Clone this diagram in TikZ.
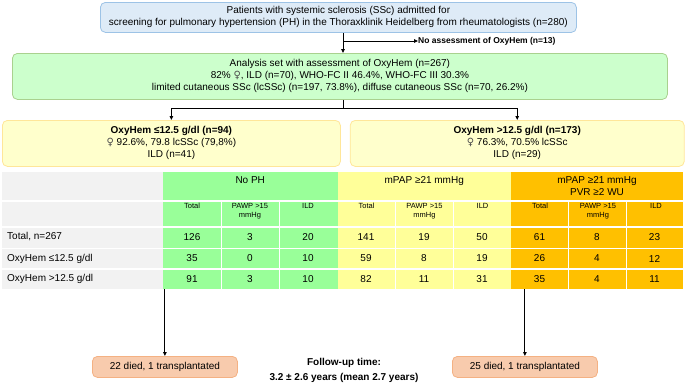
\documentclass[tikz,border=0pt]{standalone}
\usepackage{fontspec}
\setmainfont{Liberation Sans}
\newfontfamily\symfont{DejaVu Sans}
\usetikzlibrary{arrows.meta,positioning}
\definecolor{ink}{HTML}{000000}
\definecolor{skyfill}{HTML}{DEEBF7}
\definecolor{skyline}{HTML}{9DC3E6}
\definecolor{mintfill}{HTML}{CCFFCC}
\definecolor{mintline}{HTML}{A9D18E}
\definecolor{creamfill}{HTML}{FFFFCC}
\definecolor{creamline}{HTML}{FFE699}
\definecolor{nophfill}{HTML}{99FF99}
\definecolor{mpapfill}{HTML}{FFFF99}
\definecolor{pvrfill}{HTML}{FFC000}
\definecolor{labfill}{HTML}{F2F2F2}
\definecolor{peachfill}{HTML}{F8CBAD}
\definecolor{peachline}{HTML}{F4B183}
\newcommand{\fem}{{\symfont\color{black!70}♀}}
\tikzset{
  panel/.style={draw, rounded corners=5pt, line width=0.8pt, align=center, inner sep=0pt, anchor=north west},
  cell/.style={inner sep=0pt, outer sep=0pt, anchor=north west},
  flow/.style={-{Triangle[length=4pt,width=3.5pt]}, line width=0.9pt, color=ink},
  rule/.style={white, line width=1.5pt},
  num/.style={font=\fontsize{10}{12}\selectfont, inner sep=0pt},
  colhead/.style={font=\fontsize{10}{12.5}\selectfont, align=center, anchor=north, inner sep=0pt},
  subhead/.style={font=\fontsize{7.5}{9.5}\selectfont, align=center, anchor=north, inner sep=0pt},
}
\def\colx{{192,250,308,366,424,482,539.5,597,654.5}}

\begin{document}
\begin{tikzpicture}[x=1pt, y=-1pt, every node/.style={font=\fontsize{10}{12}\selectfont}]
  \useasboundingbox (0,0) rectangle (685,384);

  % flow boxes
  \node[panel, fill=skyfill, draw=skyline, minimum width=476pt, minimum height=30pt] (screen) at (100,2)
    {Patients with systemic sclerosis (SSc) admitted for\\screening for pulmonary hypertension (PH) in the Thoraxklinik Heidelberg from rheumatologists (n=280)};
  \node[panel, fill=mintfill, draw=mintline, minimum width=655pt, minimum height=46pt] (analysis) at (12,53)
    {Analysis set with assessment of OxyHem (n=267)\\82\% \fem, ILD (n=70), WHO-FC II 46.4\%, WHO-FC III 30.3\%\\limited cutaneous SSc (lcSSc) (n=197, 73.8\%), diffuse cutaneous SSc (n=70, 26.2\%)};
  \node[anchor=west, inner sep=0pt, font=\fontsize{8.5}{10}\selectfont\bfseries] (noassess) at (418,41) {No assessment of OxyHem (n=13)};
  \node[panel, fill=creamfill, draw=creamline, minimum width=338pt, minimum height=46pt] (lowhem) at (2,120)
    {\textbf{OxyHem ≤12.5 g/dl (n=94)}\\\fem{} 92.6\%, 79.8 lcSSc (79,8\%)\\ILD (n=41)};
  \node[panel, fill=creamfill, draw=creamline, minimum width=334pt, minimum height=46pt, right=9pt of lowhem] (highhem)
    {\textbf{OxyHem >12.5 g/dl (n=173)}\\\fem{} 76.3\%, 70.5\% lcSSc\\ILD (n=29)};

  \coordinate (split) at (343,41);
  \coordinate (fork) at (343,108);
  \draw[flow] (screen.south -| split) -- (analysis.north -| split);
  \draw[flow] (split) -- (noassess.west);
  \draw[line width=0.9pt] (analysis.south -| fork) -- (fork);
  \draw[flow] (fork) -| (lowhem.north);
  \draw[flow] (fork) -| (highhem.north);

  % table
  \node[cell, fill=labfill, minimum width=161pt, minimum height=117pt] (lab) at (2,172) {};
  \node[cell, fill=nophfill, minimum width=174.5pt, minimum height=117pt] (noph) at (163,172) {};
  \node[cell, fill=mpapfill, minimum width=173.5pt, minimum height=117pt] (mpap) at (337.5,172) {};
  \node[cell, fill=pvrfill, minimum width=172pt, minimum height=117pt] (pvr) at (511,172) {};
  \foreach \y in {201,227,248.5,269} \draw[rule] (2,\y) -- (683,\y);
  \foreach \x in {221,279,395,453,568,626} \draw[white, line width=1pt] (\x,201) -- (\x,289);

  \node[colhead] (nophhead) at ([yshift=-4pt]noph.north) {No PH};
  \node[colhead] (mpaphead) at ([yshift=-4pt]mpap.north) {mPAP ≥21 mmHg};
  \node[colhead] (pvrhead) at ([yshift=-4pt]pvr.north) {mPAP ≥21 mmHg\\PVR ≥2 WU};

  \foreach \xa [count=\s] in {163,337.5,511} {
    \node[subhead] (tot\s) at ({\xa+29},203) {Total};
    \node[subhead] (pawp\s) at ({\xa+87},203) {PAWP >15\\mmHg};
    \node[subhead] (ild\s) at ({\xa+145},203) {ILD};
  }

  \node[num, anchor=west] (rowall) at (7,237) {Total, n=267};
  \node[num, anchor=west] (rowlow) at (7,258.5) {OxyHem ≤12.5 g/dl};
  \node[num, anchor=west] (rowhigh) at (7,279) {OxyHem >12.5 g/dl};
  \foreach \v [count=\c] in {126,3,20,141,19,50,61,8,23}
    \node[num] (all\c) at ({\colx[\c-1]},237) {\v};
  \foreach \v [count=\c] in {35,0,10,59,8,19,26,4,12}
    \node[num] (low\c) at ({\colx[\c-1]},258.5) {\v};
  \foreach \v [count=\c] in {91,3,10,82,11,31,35,4,11}
    \node[num] (high\c) at ({\colx[\c-1]},279) {\v};

  % outcome
  \node[panel, fill=peachfill, draw=peachline, minimum width=145pt, minimum height=21pt] (died1) at (92,356) {22 died, 1 transplantated};
  \node[panel, fill=peachfill, draw=peachline, minimum width=145pt, minimum height=21pt] (died2) at (452,356) {25 died, 1 transplantated};
  \node[font=\fontsize{10}{15}\selectfont\bfseries, align=center] (follow) at (344,370) {Follow-up time:\\3.2 ± 2.6 years (mean 2.7 years)};
  \draw[flow] (died1.north |- lab.south) -- (died1.north);
  \draw[flow] (died2.north |- lab.south) -- (died2.north);
\end{tikzpicture}
\end{document}
